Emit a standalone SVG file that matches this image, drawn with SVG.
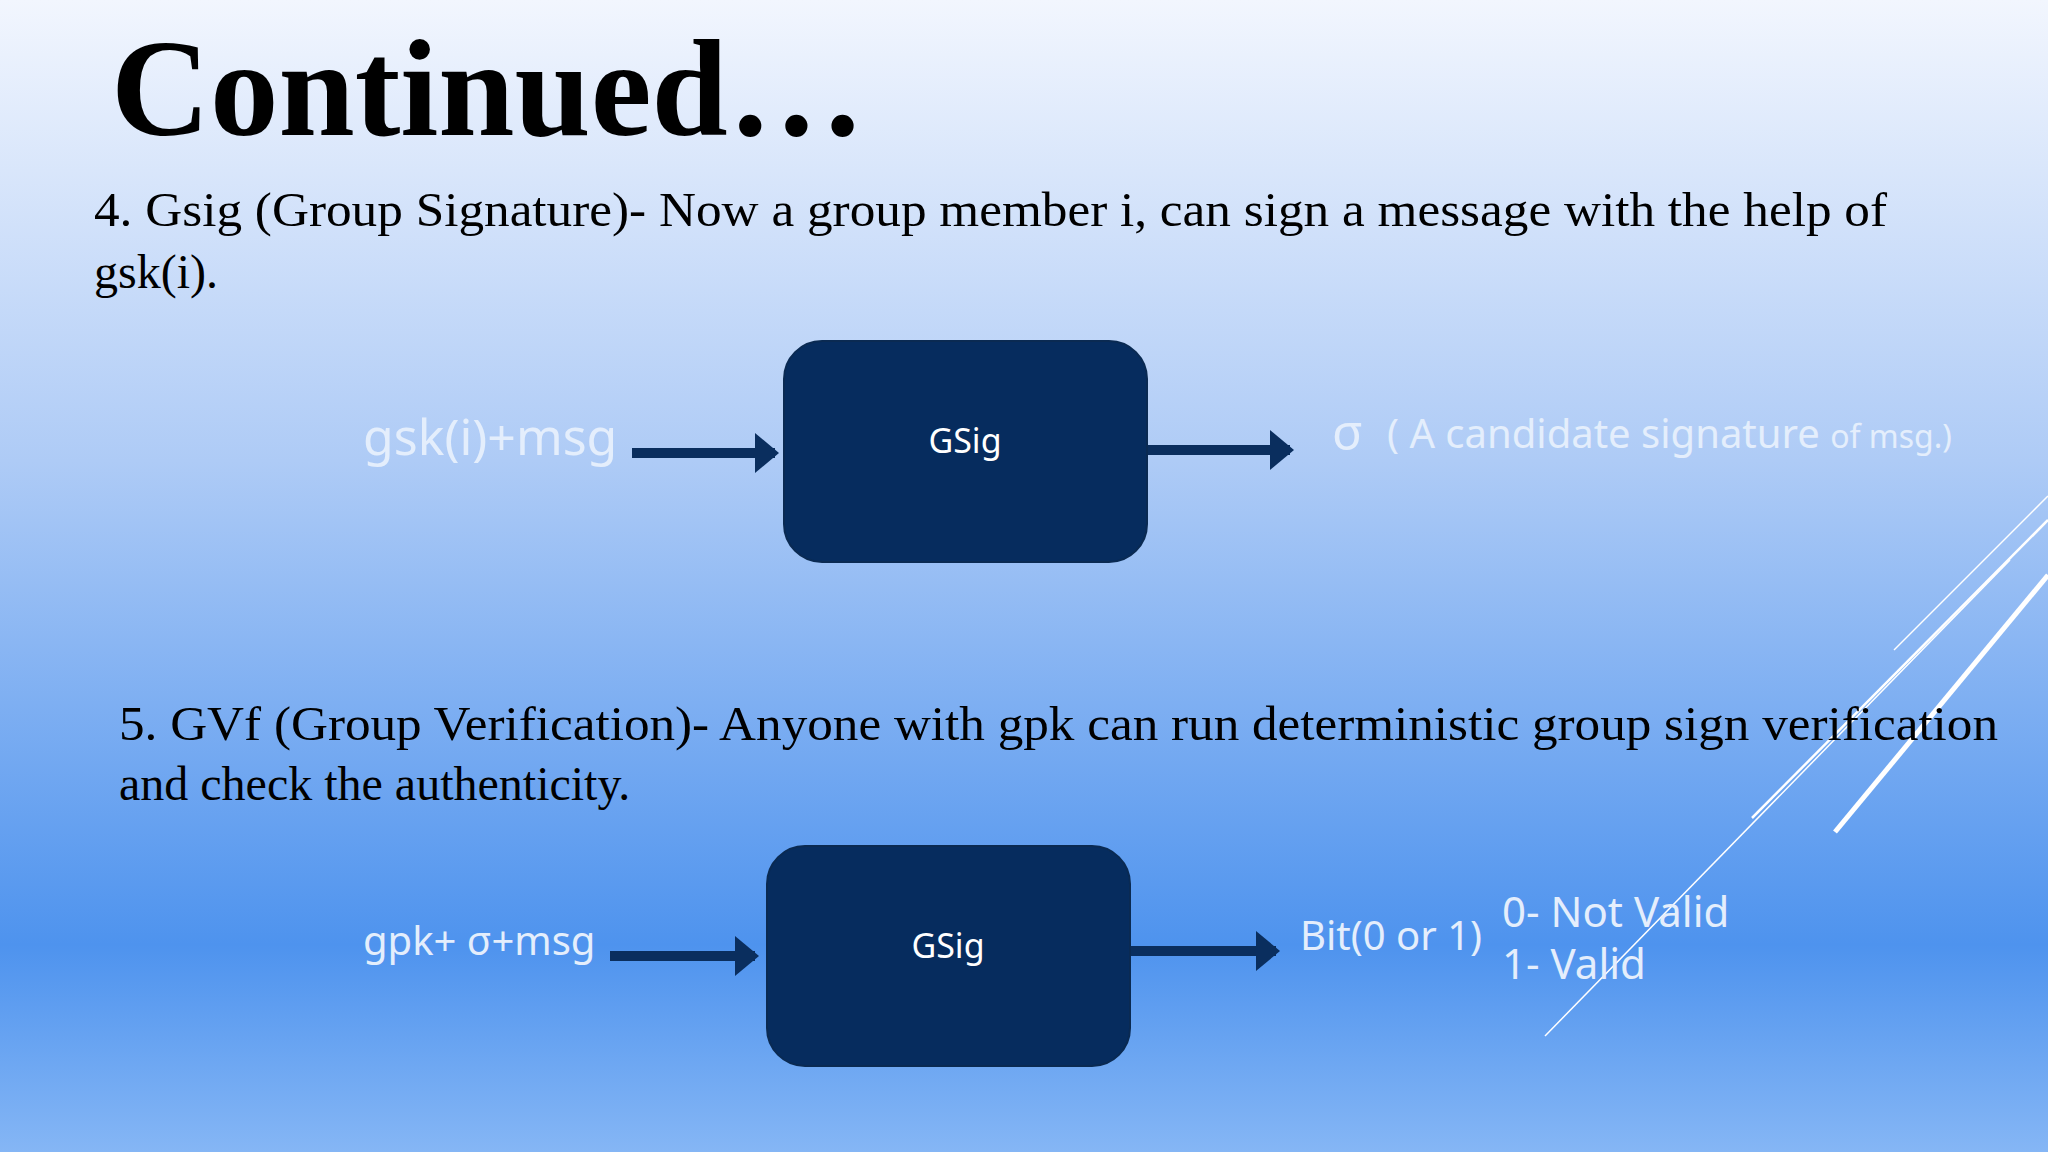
<svg xmlns="http://www.w3.org/2000/svg" width="2048" height="1152" viewBox="0 0 2048 1152">
<defs>
<linearGradient id="bg" x1="0" y1="0" x2="0" y2="1">
<stop offset="0" stop-color="#f2f6fe"/>
<stop offset="0.4" stop-color="#aecbf6"/>
<stop offset="0.82" stop-color="#4e93ee"/>
<stop offset="1" stop-color="#85b6f5"/>
</linearGradient>
<marker id="ah" markerWidth="4" markerHeight="4" refX="2" refY="2" orient="auto" markerUnits="strokeWidth">
<path d="M0,0 L2.4,2 L0,4 z" fill="#0a2e5e"/>
</marker>
<style>
.serif{font-family:"Liberation Serif",serif;fill:#000}
.sans{font-family:"Noto Sans","Open Sans",sans-serif;fill:#e4eefc}
.box{fill:#062c5e;stroke:#0a2a52;stroke-width:2}
.lbl{font-family:"Noto Sans","Open Sans",sans-serif;fill:#ffffff;font-size:34px;text-anchor:middle}
.arr{stroke:#0a2e5e;stroke-width:10;fill:none;marker-end:url(#ah)}
.deco{stroke:#ffffff;fill:none}
</style>
</defs>
<rect width="2048" height="1152" fill="url(#bg)"/>
<g id="deco">
<line class="deco" x1="2048" y1="496" x2="1894" y2="650" stroke-width="1.5"/>
<line class="deco" x1="2048" y1="520" x2="1752" y2="818" stroke-width="2.5"/>
<line class="deco" x1="2048" y1="575" x2="1835" y2="832" stroke-width="5"/>
<line class="deco" x1="2010" y1="560" x2="1545" y2="1036" stroke-width="1.5"/>
</g>
<text class="serif" x="111" y="135" font-size="137" font-weight="bold">Continued…</text>
<text class="serif" x="94" y="226" font-size="48" textLength="1793" lengthAdjust="spacingAndGlyphs">4. Gsig (Group Signature)- Now a group member i, can sign a message with the help of</text>
<text class="serif" x="94" y="288" font-size="48">gsk(i).</text>
<text class="serif" x="119" y="740" font-size="48" textLength="1879" lengthAdjust="spacingAndGlyphs">5. GVf (Group Verification)- Anyone with gpk can run deterministic group sign verification</text>
<text class="serif" x="119" y="800" font-size="48">and check the authenticity.</text>
<g id="connectors">
<line class="arr" x1="632" y1="453" x2="775" y2="453"/>
<line class="arr" x1="1147" y1="450" x2="1290" y2="450"/>
<line class="arr" x1="610" y1="956" x2="755" y2="956"/>
<line class="arr" x1="1130" y1="951" x2="1276" y2="951"/>
</g>
<g id="box1"><rect class="box" x="784" y="341" width="363" height="221" rx="38"/><text class="lbl" x="965" y="453">GSig</text></g>
<g id="box2"><rect class="box" x="767" y="846" width="363" height="220" rx="38"/><text class="lbl" x="948" y="958">GSig</text></g>
<g id="in1"><text class="sans" x="363" y="455" font-size="50">gsk(i)+msg</text></g>
<g id="out1"><text class="sans" x="1332" y="450" font-size="50">σ</text><text class="sans" x="1387" y="448" font-size="40">( A candidate signature <tspan font-size="32">of msg.)</tspan></text></g>
<g id="in2"><text class="sans" x="363" y="955" font-size="40">gpk+ σ+msg</text></g>
<g id="out2"><text class="sans" x="1300" y="950" font-size="40">Bit(0 or 1)</text>
<text class="sans" x="1502" y="927" font-size="42">0- Not Valid</text>
<text class="sans" x="1502" y="979" font-size="42">1- Valid</text></g>
</svg>
